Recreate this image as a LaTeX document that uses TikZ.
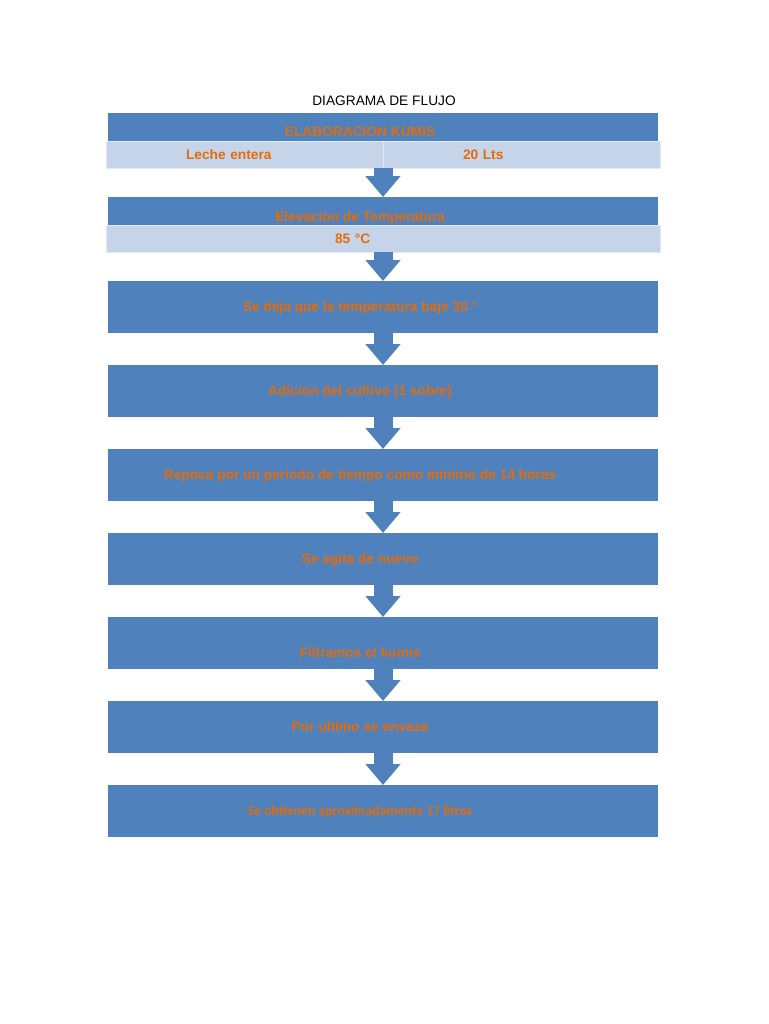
\documentclass[tikz,border=0pt]{standalone}
\usepackage{fontspec}
\setmainfont{Liberation Sans}
\newfontfamily\calibri{Carlito}
\usetikzlibrary{positioning}
\usetikzlibrary{arrows.meta}
\definecolor{azul}{RGB}{79,129,189}
\definecolor{celeste}{RGB}{198,212,233}
\definecolor{naranja}{RGB}{228,108,10}
\newcommand{\letra}{\fontsize{10.3}{12}\selectfont}
\begin{document}
\begin{tikzpicture}[node distance=24pt,
    cab/.style={fill=azul,text=naranja,font=\letra\bfseries,minimum width=412.5pt,minimum height=21pt,inner sep=0pt,outer sep=0pt,text height=15pt,text depth=0pt,execute at end node={\kern34.5pt}},
    fila/.style={fill=celeste,draw=white!50!celeste,line width=0.4pt,text=naranja,font=\letra\bfseries,text width=87.75pt,align=left,inner xsep=60pt,inner ysep=0pt,minimum height=20.25pt,outer sep=0pt,text height=7.4pt,text depth=0pt},
    paso/.style={fill=azul,text=naranja,font=\letra\bfseries,minimum width=412.5pt,minimum height=39pt,inner sep=0pt,outer sep=0pt,text height=7.4pt,text depth=0pt,execute at end node={\kern34.5pt}},
    flecha/.style={draw=azul,line width=14.25pt,-{Triangle[width=25.5pt,length=15.75pt]}}]
        \useasboundingbox[fill=white] (0,0) rectangle (576pt,-768pt);
        %
        \node[font=\letra](tit) at (288pt,-75.75pt){DIAGRAMA DE FLUJO};
        \node[cab,anchor=north](elab) at (287.25pt,-84.75pt){ELABORACION KUMIS};
        \node[fila,below left=0pt of elab.south](leche){Leche entera};
        \node[fila,below right=0pt of elab.south](lts){20 Lts};
        %
        \node[cab,below=21.75pt of leche.south east](elev){Elevacion de Temperatura};
        \node[fila,below=0pt of elev,text width=295.5pt](temp){\hspace*{111.75pt}85 °C};
        %
        \node[paso,below=21.75pt of temp](deja){Se deja que la temperatura baje 30 °};
        \node[paso,below=of deja](cult){Adicion del cultivo (1 sobre)};
        \node[paso,below=of cult](rep){Reposa por un periodo de tiempo como minimo de 14 horas};
        \node[paso,below=of rep](agit){Se agita de nuevo};
        \node[paso,below=of agit](filt){\raisebox{-7.5pt}{Filtramos el kumis}};
        \node[paso,below=of filt](env){Por ultimo se envaza};
        \node[paso,below=of env,font=\calibri\letra\bfseries](fin){Se obtienen aproximadamente 17 litros};
        %
        \draw[flecha] (leche.south east) -- (elev.north);
        \draw[flecha] (temp.south) -- (deja.north);
        \foreach \a/\b in {deja/cult,cult/rep,rep/agit,agit/filt,filt/env,env/fin}
            \draw[flecha] (\a.south) -- (\b.north);
\end{tikzpicture}
\end{document}
